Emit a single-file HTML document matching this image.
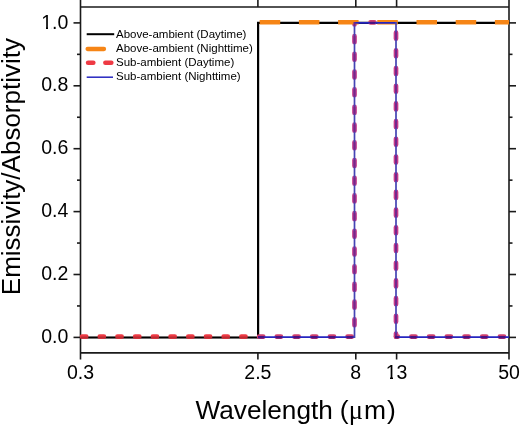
<!DOCTYPE html><html><head><meta charset="utf-8"><style>html,body{margin:0;padding:0;background:#fff;width:520px;height:425px;overflow:hidden}svg{display:block}text{font-family:"Liberation Sans",Arial,sans-serif;fill:#000}</style></head><body>
<svg width="520" height="425" viewBox="0 0 520 425">
<rect width="520" height="425" fill="#fff"/>
<line x1="80.5" y1="0" x2="80.5" y2="359.5" stroke="#1a1a1a" stroke-width="1.6" fill="none"/>
<line x1="509.0" y1="0" x2="509.0" y2="359.5" stroke="#1a1a1a" stroke-width="1.6" fill="none"/>
<line x1="80.5" y1="7.0" x2="509.0" y2="7.0" stroke="#1a1a1a" stroke-width="1.6" fill="none"/>
<line x1="80.5" y1="352.9" x2="509.0" y2="352.9" stroke="#1a1a1a" stroke-width="1.6" fill="none"/>
<line x1="257.9" y1="0" x2="257.9" y2="7.0" stroke="#1a1a1a" stroke-width="1.6" fill="none"/>
<line x1="257.9" y1="352.9" x2="257.9" y2="359.5" stroke="#1a1a1a" stroke-width="1.6" fill="none"/>
<line x1="355.8" y1="0" x2="355.8" y2="7.0" stroke="#1a1a1a" stroke-width="1.6" fill="none"/>
<line x1="355.8" y1="352.9" x2="355.8" y2="359.5" stroke="#1a1a1a" stroke-width="1.6" fill="none"/>
<line x1="396.6" y1="0" x2="396.6" y2="7.0" stroke="#1a1a1a" stroke-width="1.6" fill="none"/>
<line x1="396.6" y1="352.9" x2="396.6" y2="359.5" stroke="#1a1a1a" stroke-width="1.6" fill="none"/>
<line x1="73.5" y1="337.4" x2="80.5" y2="337.4" stroke="#1a1a1a" stroke-width="1.6" fill="none"/>
<line x1="509.0" y1="337.4" x2="516" y2="337.4" stroke="#1a1a1a" stroke-width="1.6" fill="none"/>
<line x1="77" y1="305.95" x2="80.5" y2="305.95" stroke="#1a1a1a" stroke-width="1.6" fill="none"/>
<line x1="509.0" y1="305.95" x2="512.5" y2="305.95" stroke="#1a1a1a" stroke-width="1.6" fill="none"/>
<line x1="73.5" y1="274.5" x2="80.5" y2="274.5" stroke="#1a1a1a" stroke-width="1.6" fill="none"/>
<line x1="509.0" y1="274.5" x2="516" y2="274.5" stroke="#1a1a1a" stroke-width="1.6" fill="none"/>
<line x1="77" y1="243.05" x2="80.5" y2="243.05" stroke="#1a1a1a" stroke-width="1.6" fill="none"/>
<line x1="509.0" y1="243.05" x2="512.5" y2="243.05" stroke="#1a1a1a" stroke-width="1.6" fill="none"/>
<line x1="73.5" y1="211.6" x2="80.5" y2="211.6" stroke="#1a1a1a" stroke-width="1.6" fill="none"/>
<line x1="509.0" y1="211.6" x2="516" y2="211.6" stroke="#1a1a1a" stroke-width="1.6" fill="none"/>
<line x1="77" y1="180.15" x2="80.5" y2="180.15" stroke="#1a1a1a" stroke-width="1.6" fill="none"/>
<line x1="509.0" y1="180.15" x2="512.5" y2="180.15" stroke="#1a1a1a" stroke-width="1.6" fill="none"/>
<line x1="73.5" y1="148.7" x2="80.5" y2="148.7" stroke="#1a1a1a" stroke-width="1.6" fill="none"/>
<line x1="509.0" y1="148.7" x2="516" y2="148.7" stroke="#1a1a1a" stroke-width="1.6" fill="none"/>
<line x1="77" y1="117.25" x2="80.5" y2="117.25" stroke="#1a1a1a" stroke-width="1.6" fill="none"/>
<line x1="509.0" y1="117.25" x2="512.5" y2="117.25" stroke="#1a1a1a" stroke-width="1.6" fill="none"/>
<line x1="73.5" y1="85.8" x2="80.5" y2="85.8" stroke="#1a1a1a" stroke-width="1.6" fill="none"/>
<line x1="509.0" y1="85.8" x2="516" y2="85.8" stroke="#1a1a1a" stroke-width="1.6" fill="none"/>
<line x1="77" y1="54.35" x2="80.5" y2="54.35" stroke="#1a1a1a" stroke-width="1.6" fill="none"/>
<line x1="509.0" y1="54.35" x2="512.5" y2="54.35" stroke="#1a1a1a" stroke-width="1.6" fill="none"/>
<line x1="73.5" y1="22.9" x2="80.5" y2="22.9" stroke="#1a1a1a" stroke-width="1.6" fill="none"/>
<line x1="509.0" y1="22.9" x2="516" y2="22.9" stroke="#1a1a1a" stroke-width="1.6" fill="none"/>
<text x="68.3" y="343.00" font-size="19.5" text-anchor="end">0.0</text>
<text x="68.3" y="280.10" font-size="19.5" text-anchor="end">0.2</text>
<text x="68.3" y="217.20" font-size="19.5" text-anchor="end">0.4</text>
<text x="68.3" y="154.30" font-size="19.5" text-anchor="end">0.6</text>
<text x="68.3" y="91.40" font-size="19.5" text-anchor="end">0.8</text>
<text x="68.3" y="28.50" font-size="19.5" text-anchor="end">1.0</text>
<text x="80.5" y="378.8" font-size="19.5" text-anchor="middle">0.3</text>
<text x="257.9" y="378.8" font-size="19.5" text-anchor="middle">2.5</text>
<text x="355.8" y="378.8" font-size="19.5" text-anchor="middle">8</text>
<text x="396.6" y="378.8" font-size="19.5" text-anchor="middle">13</text>
<text x="509.0" y="378.8" font-size="19.5" text-anchor="middle">50</text>
<path d="M41.5 26.6H46V29.6H41.5ZM48 26.6H51.5V29.6H48ZM386.5 376.9H390V379.9H386.5ZM393 376.9H396.5V379.9H393Z" fill="#fff"/>
<text x="195.5" y="419" font-size="26.2">Wavelength</text>
<text y="419" font-size="26.45"><tspan x="339.8">(</tspan><tspan x="348.8" font-family="Liberation Serif, serif">μ</tspan><tspan x="364.1">m</tspan><tspan x="386.9">)</tspan></text>
<text transform="translate(19.9,295.2) rotate(-90)" font-size="26.0">Emissivity/Absorptivity</text>
<path d="M80.5 337.5H258.1V22.8H509.0" stroke="#000" stroke-width="2.2" fill="none"/>
<path d="M80.5 336.7H258.1" stroke="#EE3A44" stroke-width="4.7" fill="none" stroke-linecap="round" stroke-dasharray="4.2 13.50" stroke-dashoffset="-1.55"/>
<path d="M80.5 337.5H258.1" stroke="#000" stroke-opacity="0.22" stroke-width="2.0" fill="none"/>
<path d="M258.1 336.7H354.5" stroke="#D0406E" stroke-width="4.7" fill="none" stroke-linecap="round" stroke-dasharray="4.2 13.50" stroke-dashoffset="-0.95"/>
<path d="M354.5 336.7V22.8" stroke="#C63C8A" stroke-width="4.7" fill="none" stroke-linecap="round" stroke-dasharray="6.0 11.70" stroke-dashoffset="-11.35"/>
<path d="M370.55 22.4H374.35" stroke="#D0406E" stroke-width="4.7" fill="none" stroke-linecap="round" stroke-dasharray="4.2 13.50" stroke-dashoffset="-0.00"/>
<path d="M396.0 22.8V336.7" stroke="#C63C8A" stroke-width="4.7" fill="none" stroke-linecap="round" stroke-dasharray="6.0 11.70" stroke-dashoffset="-9.85"/>
<path d="M396.0 336.7H509.0" stroke="#D0406E" stroke-width="4.7" fill="none" stroke-linecap="round" stroke-dasharray="4.2 13.50" stroke-dashoffset="-15.35"/>
<path d="M258.1 22.35H509.0" stroke="#F68516" stroke-width="4.5" fill="none" stroke-dasharray="20.5 18.7" stroke-dashoffset="-1.60"/>
<path d="M258.1 337.2H354.5M354.5 22.8H396.0M396.0 337.2H509.0" stroke="#2626C0" stroke-width="1.8" fill="none"/>
<path d="M354.5 338.1V21.9M396.0 21.9V338.1" stroke="#4444B4" stroke-width="1.7" fill="none"/>
<path d="M258.1 337.2H354.5" stroke="#4C1280" stroke-width="2.4" fill="none" stroke-linecap="round" stroke-dasharray="4.2 13.50" stroke-dashoffset="-0.95"/>
<path d="M354.5 337.2V22.8" stroke="#7A2488" stroke-width="1.7" fill="none" stroke-linecap="round" stroke-dasharray="6.0 11.70" stroke-dashoffset="-11.35"/>
<path d="M370.55 22.8H374.35" stroke="#4C1280" stroke-width="2.2" fill="none" stroke-linecap="round" stroke-dasharray="4.2 13.50" stroke-dashoffset="-0.00"/>
<path d="M396.0 22.8V337.2" stroke="#7A2488" stroke-width="1.7" fill="none" stroke-linecap="round" stroke-dasharray="6.0 11.70" stroke-dashoffset="-9.85"/>
<path d="M396.0 337.2H509.0" stroke="#4C1280" stroke-width="2.4" fill="none" stroke-linecap="round" stroke-dasharray="4.2 13.50" stroke-dashoffset="-15.35"/>
<line x1="86.7" y1="34.2" x2="114.2" y2="34.2" stroke="#000" stroke-width="2"/>
<line x1="87.6" y1="49.0" x2="104.0" y2="49.0" stroke="#F68516" stroke-width="4.3" stroke-linecap="round"/>
<line x1="88.1" y1="62.7" x2="93.3" y2="62.7" stroke="#EE3A44" stroke-width="4.6" stroke-linecap="round"/>
<line x1="105.4" y1="62.7" x2="111.3" y2="62.7" stroke="#EE3A44" stroke-width="4.6" stroke-linecap="round"/>
<line x1="86.7" y1="77.2" x2="113" y2="77.2" stroke="#2626C0" stroke-width="1.5"/>
<text x="116" y="38.20" font-size="11.5" fill="#111">Above-ambient (Daytime)</text>
<text x="116" y="52.15" font-size="11.5" fill="#111">Above-ambient (Nighttime)</text>
<text x="116" y="66.10" font-size="11.5" fill="#111">Sub-ambient (Daytime)</text>
<text x="116" y="80.05" font-size="11.5" fill="#111">Sub-ambient (Nighttime)</text>
</svg></body></html>
